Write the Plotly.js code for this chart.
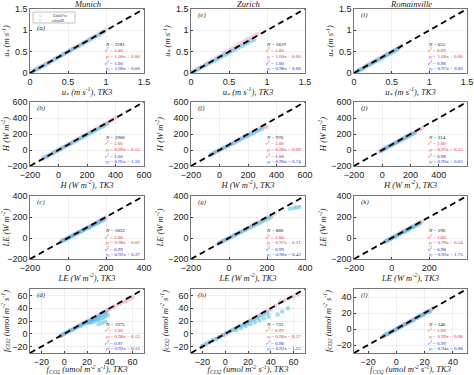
<!DOCTYPE html>
<html><head><meta charset="utf-8">
<script src="https://cdn.plot.ly/plotly-3.0.1.min.js"></script>
<style>html,body{margin:0;padding:0;background:#fff}#chart{width:474px;height:375px}</style>
</head><body><div id="chart"></div><script>
// ---------- labels ----------
const sites = ['Munich', 'Zurich', 'Romainville'];
const panelLetters = ['a','b','c','d','e','f','g','h','i','j','k','l']; // column-major
const yTitles = ['<i>u<sub>*</sub> (m s<sup>-1</sup>)</i>', '<i>H (W m<sup>-2</sup>)</i>', '<i>LE (W m<sup>-2</sup>)</i>', '<i>f<sub>CO2</sub> (umol m<sup>-2</sup> s<sup>-1</sup>)</i>'];
const xTitles = ['<i>u<sub>*</sub> (m s<sup>-1</sup>), TK3</i>', '<i>H (W m<sup>-2</sup>), TK3</i>', '<i>LE (W m<sup>-2</sup>), TK3</i>', '<i>f<sub>CO2</sub> (umol m<sup>-2</sup> s<sup>-1</sup>), TK3</i>'];
const seriesNames = ['EddyPro', 'eddy4R'];

// axis ranges [row][col] and tick steps per row
const axisRanges = [
  [[0,1.5],[0,1.5],[0,1.5]],
  [[-200,600],[-200,600],[-200,600]],
  [[-200,400],[-200,400],[-200,400]],
  [[-30,70],[-30,70],[-30,50]]
];
const tickSteps = [0.5, 200, 200, 20];

// ---------- data, panel order a..l ----------
// (a) u* Munich
const a_ep_x = [0.03,0.07,0.11,0.15,0.19,0.23,0.27,0.31,0.35,0.39,0.43,0.47,0.51,0.55,0.59,0.63,0.67,0.71,0.75,0.79,0.83,0.87,0.91,0.95,0.99];
const a_ep_y = [0.04,0.08,0.12,0.16,0.2,0.24,0.28,0.32,0.36,0.4,0.44,0.48,0.52,0.56,0.6,0.64,0.68,0.72,0.76,0.8,0.84,0.88,0.92,0.96,1.0];
const a_e4_x = [0.05,0.09,0.13,0.17,0.21,0.25,0.29,0.33,0.37,0.41,0.45,0.49,0.53,0.57,0.61,0.65,0.69,0.73,0.77,0.81,0.85,0.89,0.93,0.97];
const a_e4_y = [0.05,0.09,0.12,0.16,0.2,0.24,0.28,0.32,0.36,0.4,0.44,0.48,0.52,0.56,0.6,0.64,0.68,0.72,0.76,0.8,0.84,0.88,0.92,0.96];
// (b) H Munich
const b_ep_x = [-110,-90,-70,-50,-30,-10,10,30,50,70,90,110,130,150,170,190,210,230,250,270,290,310,330,350,370,390,410];
const b_ep_y = [-108,-89,-70,-50,-30,-10,10,30,50,70,90,110,130,150,170,190,210,230,250,270,290,310,330,349,368,388,408];
const b_e4_x = [-100,-80,-60,-40,-20,0,20,40,60,80,100,120,140,160,180,200,220,240,260,280,300,320,340];
const b_e4_y = [-96,-77,-58,-39,-20,-1,18,37,56,75,94,113,132,151,170,189,208,227,246,265,284,303,322];
// (c) LE Munich
const c_ep_x = [-40,-30,-20,-10,0,10,20,30,40,50,60,70,80,90,100,110,120,130,140,150,160,170,180,190,200];
const c_ep_y = [-39,-29,-20,-10,0,10,20,29,39,49,59,69,78,88,98,108,118,127,137,147,157,167,176,186,196];
const c_e4_x = [-30,-20,-10,0,10,20,30,40,50,60,70,80,90,100,110,120,130,140,150,160,170,180,190];
const c_e4_y = [-27,-18,-9,0,9,18,28,37,46,55,65,74,83,92,101,110,120,129,138,147,157,166,175];
// (d) fCO2 Munich
const d_ep_x = [-4,-2,0,2,4,6,8,10,12,14,16,18,20,22,24,26,28,30,32,34,36,38,40,43,45,48,50,53,55,58,60];
const d_ep_y = [-4,-2,0,2,4,6,8,10,12,14,16,18,20,21,23,25,27,29,31,33,35,37,39,41,44,46,49,50,52,55,57];
const d_e4_x = [-3,-1,1,3,5,7,9,11,13,15,17,19,21,23,25,27,29,31,33,35,37,22,24,26,28,30,32,34,36,38,30,33,36];
const d_e4_y = [-3,-1,1,3,5,6,8,10,12,13,15,17,19,21,23,24,26,28,30,32,34,17,18,19,21,22,24,25,27,29,15,17,19];
// (e) u* Zurich
const e_ep_x = [0.03,0.07,0.11,0.15,0.19,0.23,0.27,0.31,0.35,0.39,0.43,0.47,0.51,0.55,0.59,0.63,0.67,0.71,0.75,0.79,0.83,0.87];
const e_ep_y = [0.04,0.08,0.12,0.16,0.2,0.24,0.29,0.33,0.37,0.41,0.46,0.5,0.54,0.58,0.62,0.66,0.71,0.75,0.79,0.83,0.87,0.91];
const e_e4_x = [0.03,0.07,0.11,0.15,0.19,0.23,0.27,0.31,0.35,0.39,0.43,0.47,0.51,0.55,0.59,0.63,0.67,0.71,0.75,0.79,0.83];
const e_e4_y = [0.03,0.06,0.1,0.14,0.18,0.22,0.25,0.29,0.33,0.37,0.41,0.44,0.48,0.52,0.56,0.6,0.63,0.67,0.71,0.75,0.78];
// (f) H Zurich
const f_ep_x = [-60,-40,-20,0,20,40,60,80,100,120,140,160,180,200,220,240,260,280,300,320,330];
const f_ep_y = [-58,-39,-20,0,19,38,57,77,96,115,134,153,172,192,211,230,250,269,288,300,285];
const f_e4_x = [-60,-40,-20,0,20,40,60,80,100,120,140,160,180,200,220,240,260,280,300];
const f_e4_y = [-55,-37,-19,-1,17,35,53,71,89,107,125,143,161,179,197,215,233,250,265];
// (g) LE Zurich
const g_ep_x = [-60,-45,-30,-15,0,15,30,45,60,75,90,105,120,135,150,165,180,195,210,225,240];
const g_ep_y = [-58,-44,-29,-15,0,15,29,44,58,73,87,102,117,131,146,160,175,189,204,218,233];
const g_e4_x = [-50,-35,-20,-5,10,25,40,55,70,85,100,115,130,145,160,175,190,205,220,320,340,355,370];
const g_e4_y = [-45,-32,-18,-4,9,23,36,50,63,77,90,104,117,131,144,158,171,185,198,278,285,290,295];
// (h) fCO2 Zurich
const h_ep_x = [-20,-17,-14,-11,-8,-5,-2,1,4,7,10,13,16,19,22,25,28,31,34,37,40,44,48,52,56,60,64];
const h_ep_y = [-19,-16,-14,-11,-8,-5,-2,1,4,7,10,12,15,18,21,24,27,30,33,36,38,44,50,52,55,58,61];
const h_e4_x = [-20,-17,-14,-11,-8,-5,-2,1,4,7,10,13,16,19,22,25,28,31,34,37,10,14,18,22,26,30,34,38,46,50,55];
const h_e4_y = [-19,-16,-13,-10,-8,-5,-2,1,4,6,9,12,14,17,20,23,25,28,31,33,6,9,12,15,18,21,24,27,30,35,40];
// (i) u* Romainville
const i_ep_x = [0.03,0.06,0.09,0.12,0.15,0.18,0.21,0.24,0.27,0.3,0.33,0.36,0.39,0.42,0.45,0.48,0.51,0.54,0.57,0.6,0.63];
const i_ep_y = [0.03,0.06,0.09,0.12,0.15,0.18,0.21,0.24,0.27,0.3,0.33,0.36,0.39,0.42,0.45,0.48,0.51,0.54,0.57,0.6,0.63];
const i_e4_x = [0.04,0.07,0.1,0.13,0.16,0.19,0.22,0.25,0.28,0.31,0.34,0.37,0.4,0.43,0.46,0.49,0.52,0.55,0.58];
const i_e4_y = [0.04,0.07,0.09,0.12,0.15,0.18,0.21,0.24,0.27,0.3,0.32,0.35,0.38,0.41,0.44,0.47,0.5,0.53,0.56];
// (j) H Romainville
const j_ep_x = [-20,-5,10,25,40,55,70,85,100,115,130,145,160,175,190,205,220,235,250,265,280];
const j_ep_y = [-20,-5,9,24,38,53,68,83,97,112,126,141,155,170,184,199,213,228,243,258,272];
const j_e4_x = [-10,5,20,35,50,65,80,95,110,125,140,155,170,185,200,215,230];
const j_e4_y = [-10,4,18,32,46,60,74,88,102,116,130,144,158,172,186,200,213];
// (k) LE Romainville
const k_ep_x = [-40,-30,-20,-10,0,10,20,30,40,50,60,70,80,90,100,110,120,130,140,150,160];
const k_ep_y = [-40,-30,-20,-10,-1,9,19,29,39,49,59,69,79,89,99,108,118,128,138,148,158];
const k_e4_x = [-30,-20,-10,0,10,20,30,40,50,60,70,80,90,100,110,120,130,140,150];
const k_e4_y = [-30,-20,-11,-2,8,17,26,35,45,54,63,72,82,91,100,109,119,128,137];
// (l) fCO2 Romainville
const l_ep_x = [-10,-8.5,-7,-5.5,-4,-2.5,-1,0.5,2,3.5,5,6.5,8,9.5,11,12.5,14,15.5,17,18.5,20,21.5,23,24.5,26];
const l_ep_y = [-10,-8.5,-7,-5.5,-4,-2.5,-1,0.5,2,3.5,5,6.5,8,9.5,11,12.5,14,15.5,17,18.5,20,21.5,23,24.5,26];
const l_e4_x = [-9,-7.5,-6,-4.5,-3,-1.5,0,1.5,3,4.5,6,7.5,9,10.5,12,13.5,15,16.5,18,19.5,21,22.5,24];
const l_e4_y = [-8,-7,-6,-4.5,-3,-1.5,0,1.5,3,4,6,7,8,10,11,13,14,15.5,17,18,20,21,22];

// statistics text, panel order a..l
const statN    = [2281,1900,1832,1975,1819,976,880,733,655,314,290,246];
const statR2ep = ['1.00','1.00','1.00','1.00','1.00','1.00','1.00','0.99','0.99','1.00','1.00','1.00'];
const statFitEp= ['1.00x + 0.00','0.99x − 0.15','0.98x + 0.02','0.98x − 0.13','1.00x + 0.00','0.96x − 0.09','0.97x + 0.21','0.96x − 0.37','1.00x + 0.00','0.97x − 0.25','0.99x − 0.54','0.99x − 0.08'];
const statR2e4 = ['1.00','1.00','0.99','0.97','1.00','1.00','0.99','0.98','0.98','0.98','0.98','0.99'];
const statFitE4= ['1.00x + 0.00','0.95x − 1.16','0.92x + 0.37','0.92x − 0.15','0.98x + 0.00','0.90x − 0.74','0.90x − 0.42','0.92x − 1.25','0.97x + 0.00','0.93x − 0.63','0.93x − 1.75','0.94x − 0.08'];

const panelData = {
  a:[a_ep_x,a_ep_y,a_e4_x,a_e4_y], b:[b_ep_x,b_ep_y,b_e4_x,b_e4_y], c:[c_ep_x,c_ep_y,c_e4_x,c_e4_y], d:[d_ep_x,d_ep_y,d_e4_x,d_e4_y],
  e:[e_ep_x,e_ep_y,e_e4_x,e_e4_y], f:[f_ep_x,f_ep_y,f_e4_x,f_e4_y], g:[g_ep_x,g_ep_y,g_e4_x,g_e4_y], h:[h_ep_x,h_ep_y,h_e4_x,h_e4_y],
  i:[i_ep_x,i_ep_y,i_e4_x,i_e4_y], j:[j_ep_x,j_ep_y,j_e4_x,j_e4_y], k:[k_ep_x,k_ep_y,k_e4_x,k_e4_y], l:[l_ep_x,l_ep_y,l_e4_x,l_e4_y]
};

// ---------- layout geometry ----------
const W = 474, H = 375;
const colPx = [[30,144],[191,305],[354,467]];
const rowPx = [[9,73],[102,166],[196,259],[289,353]];
const serif = 'Liberation Serif, Times New Roman, serif';
const sans = 'Liberation Sans, Arial, sans-serif';
const epColor = 'rgba(228,150,190,0.45)';
const e4Color = 'rgba(70,185,228,0.5)';

const traces = [];
const layout = {
  width: W, height: H, margin: {l:0, r:0, t:0, b:0},
  paper_bgcolor: '#fff', plot_bgcolor: '#fff',
  showlegend: false,
  annotations: [], shapes: []
};

for (let col = 0; col < 3; col++) {
  for (let row = 0; row < 4; row++) {
    const p = row * 3 + col;
    const n = p + 1;
    const xa = n === 1 ? 'x' : 'x' + n;
    const ya = n === 1 ? 'y' : 'y' + n;
    const letter = panelLetters[col * 4 + row];
    const idx = col * 4 + row;
    const d = panelData[letter];
    const rng = axisRanges[row][col];

    traces.push({x: d[0], y: d[1], xaxis: xa, yaxis: ya, type: 'scatter', mode: 'markers', name: seriesNames[0],
      marker: {color: epColor, size: 4.5, symbol: 'circle', line: {width: 0}}, hoverinfo: 'skip'});
    traces.push({x: d[2], y: d[3], xaxis: xa, yaxis: ya, type: 'scatter', mode: 'markers', name: seriesNames[1],
      marker: {color: e4Color, size: 4.5, symbol: 'circle', line: {width: 0}}, hoverinfo: 'skip'});
    traces.push({x: rng, y: rng, xaxis: xa, yaxis: ya, type: 'scatter', mode: 'lines',
      line: {color: '#000', width: 1.8, dash: '6px,4px'}, hoverinfo: 'skip'});

    const axCommon = {range: rng, dtick: tickSteps[row], tick0: 0, showgrid: true, gridcolor: '#e4e4e4', gridwidth: 0.6,
      zeroline: false, showline: true, mirror: true, linecolor: '#3a3a3a', linewidth: 0.7, ticks: 'inside', ticklen: 2,
      tickcolor: '#3a3a3a', tickfont: {family: sans, size: 9, color: '#222'}, automargin: false, fixedrange: true};
    layout[n === 1 ? 'xaxis' : 'xaxis' + n] = Object.assign({}, axCommon, {
      domain: [colPx[col][0]/W, colPx[col][1]/W], anchor: ya,
      title: {text: xTitles[row], font: {family: serif, size: 8.5, color: '#222'}, standoff: 2}});
    layout[n === 1 ? 'yaxis' : 'yaxis' + n] = Object.assign({}, axCommon, {
      domain: [1 - rowPx[row][1]/H, 1 - rowPx[row][0]/H], anchor: xa,
      title: {text: yTitles[row], font: {family: serif, size: 8.5, color: '#222'}, standoff: 3}});

    // panel letter
    layout.annotations.push({xref: xa + ' domain', yref: ya + ' domain', x: 0.04, y: p === 0 ? 0.70 : 0.9,
      xanchor: 'left', yanchor: 'middle', showarrow: false, text: '<i>(' + letter + ')</i>',
      font: {family: serif, size: 7, color: '#333'}});
    // stats lines
    const lines = [
      ['<i>N</i> = ' + statN[idx], '#111'],
      ['<i>r</i><sup>2</sup> = ' + statR2ep[idx], '#e8282e'],
      ['<i>y<sub>l</sub></i> = ' + statFitEp[idx], '#e8282e'],
      ['<i>r</i><sup>2</sup> = ' + statR2e4[idx], '#2424d8'],
      ['<i>y<sub>l</sub></i> = ' + statFitE4[idx], '#2424d8']
    ];
    const ys = [0.45, 0.352, 0.254, 0.156, 0.058];
    lines.forEach((ln, k) => {
      layout.annotations.push({xref: xa + ' domain', yref: ya + ' domain', x: 0.64, y: ys[k],
        xanchor: 'left', yanchor: 'middle', showarrow: false, text: ln[0],
        font: {family: serif, size: 5, color: ln[1]}});
    });
  }
  // site titles
  layout.annotations.push({xref: 'paper', yref: 'paper', x: (colPx[col][0] + colPx[col][1]) / 2 / W, y: 1 - 4/H,
    xanchor: 'center', yanchor: 'middle', showarrow: false, text: '<i>' + sites[col] + '</i>',
    font: {family: serif, size: 8.5, color: '#222'}});
}

// small legend box in panel (a)
layout.shapes.push({type: 'rect', xref: 'paper', yref: 'paper', x0: 33/W, x1: 75/W, y0: 1 - 23/H, y1: 1 - 12/H,
  line: {color: '#999', width: 0.6}, fillcolor: '#fff', layer: 'above'});
const legendSymbols = ['□', '•'];
seriesNames.forEach((nm, k) => {
  const yy = 1 - (15 + k * 5) / H;
  layout.annotations.push({xref: 'paper', yref: 'paper', x: 40/W, y: yy, xanchor: 'center', yanchor: 'middle', showarrow: false,
    text: legendSymbols[k], font: {family: sans, size: 5, color: '#aaa'}});
  layout.annotations.push({xref: 'paper', yref: 'paper', x: 50/W, y: yy, xanchor: 'left', yanchor: 'middle', showarrow: false,
    text: '<i>' + nm + '</i>', font: {family: serif, size: 4, color: '#444'}});
});

Plotly.newPlot('chart', traces, layout, {staticPlot: true, displayModeBar: false});
</script></body></html>
